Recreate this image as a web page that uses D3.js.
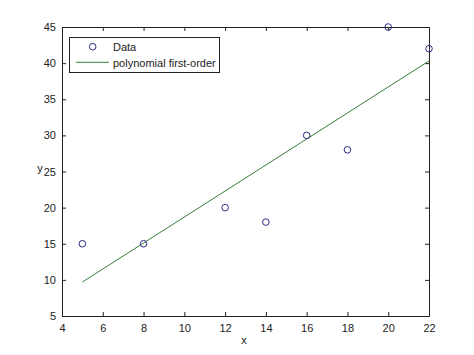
<!DOCTYPE html>
<meta charset="utf-8">
<style>
body { margin: 0; background: #fff; }
text { font-family: "Liberation Sans", Arial, sans-serif; font-size: 11px; fill: #222; }
</style>
<body>
<script src="https://d3js.org/d3.v7.min.js"></script>
<script>
// data
var xs = [5, 8, 12, 14, 16, 18, 20, 22];
var ys = [15, 15, 20, 18, 30, 28, 45, 42];
// fitted line end points
var fitX = [5, 22];
var fitY = [9.7, 40.3];
var xTicks = [4, 6, 8, 10, 12, 14, 16, 18, 20, 22];
var yTicks = [5, 10, 15, 20, 25, 30, 35, 40, 45];

var W = 474, H = 355;
var margin = {top: 27, right: 45, bottom: 39, left: 62};
var width = 429 - margin.left, height = 316 - margin.top;

var svg = d3.select("body").append("svg")
    .attr("width", W).attr("height", H);
var g = svg.append("g")
    .attr("transform", "translate(" + margin.left + "," + margin.top + ")");

var x = d3.scaleLinear().domain([4, 22]).range([0, width]);
var y = d3.scaleLinear().domain([5, 45]).range([height, 0]);

var tk = 4;
// axes with inward ticks on all sides
function styleAxis(sel) {
  sel.select(".domain").attr("stroke", "#222");
  sel.selectAll(".tick line").attr("stroke", "#222");
}
g.append("g").attr("transform", "translate(0," + height + ")")
  .call(d3.axisBottom(x).tickValues(xTicks).tickSizeInner(-tk).tickSizeOuter(0).tickPadding(8))
  .call(styleAxis);
g.append("g")
  .call(d3.axisTop(x).tickValues(xTicks).tickSizeInner(-tk).tickSizeOuter(0).tickFormat(""))
  .call(styleAxis);
g.append("g")
  .call(d3.axisLeft(y).tickValues(yTicks).tickSizeInner(-tk).tickSizeOuter(0).tickPadding(6))
  .call(styleAxis);
g.append("g").attr("transform", "translate(" + width + ",0)")
  .call(d3.axisRight(y).tickValues(yTicks).tickSizeInner(-tk).tickSizeOuter(0).tickFormat(""))
  .call(styleAxis);
g.selectAll(".tick text").attr("font-size", 11).attr("fill", "#222")
  .attr("font-family", "Liberation Sans, Arial, sans-serif");

// fit line
g.append("path")
  .datum(d3.zip(fitX, fitY))
  .attr("fill", "none")
  .attr("stroke", "#3a7d3a")
  .attr("stroke-width", 1)
  .attr("d", d3.line().x(function(d) { return x(d[0]); }).y(function(d) { return y(d[1]); }));

// data points
g.selectAll("circle.pt")
  .data(d3.zip(xs, ys))
  .enter().append("circle")
  .attr("class", "pt")
  .attr("cx", function(d) { return x(d[0]); })
  .attr("cy", function(d) { return y(d[1]); })
  .attr("r", 3.3)
  .attr("fill", "none")
  .attr("stroke", "#2a2a85")
  .attr("stroke-width", 1);

// axis labels
svg.append("text").attr("x", 244).attr("y", 344).attr("text-anchor", "middle").text("x");
svg.append("text").attr("x", 40).attr("y", 172).attr("text-anchor", "middle").text("y");

// legend
var lg = svg.append("g");
lg.append("rect").attr("x", 69.5).attr("y", 37.5).attr("width", 150).attr("height", 35)
  .attr("fill", "#fff").attr("stroke", "#222").attr("stroke-width", 1);
lg.append("circle").attr("cx", 92.7).attr("cy", 46.7).attr("r", 3.3)
  .attr("fill", "none").attr("stroke", "#2a2a85");
lg.append("line").attr("x1", 76).attr("x2", 109).attr("y1", 62.3).attr("y2", 62.3)
  .attr("stroke", "#3a7d3a");
lg.append("text").attr("x", 113).attr("y", 51).text("Data");
lg.append("text").attr("x", 113).attr("y", 66.5).text("polynomial first-order");
</script>
</body>
